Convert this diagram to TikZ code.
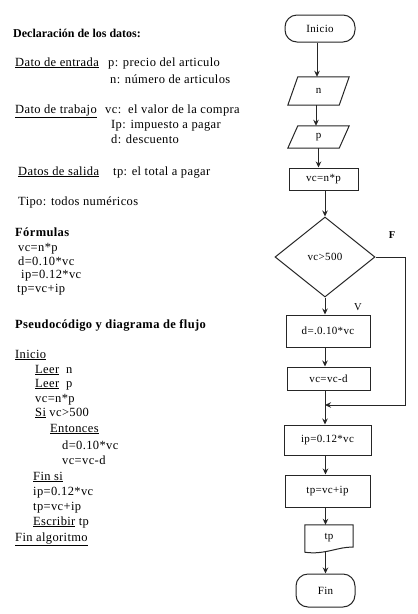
\documentclass[tikz,border=0pt]{standalone}
\usepackage{fontspec}
\setmainfont{Liberation Serif}
\usetikzlibrary{shapes.geometric,arrows.meta,calc}
\tikzset{
  txt/.style={anchor=west, inner sep=0pt, text height=8.5pt, text depth=2.5pt, font=\fontsize{12.5}{14}\selectfont\addfontfeature{LetterSpace=3}},
  btxt/.style={txt, font=\fontsize{12.5}{14}\selectfont\bfseries\addfontfeature{LetterSpace=3}},
  ln/.style={line width=1pt, draw=black!85},
  arr/.style={ln, -{Stealth[length=6pt,width=5.5pt]}},
  ffont/.style={font=\fontsize{11}{13}\selectfont\addfontfeature{LetterSpace=3}},
  term/.style={ln, rectangle, rounded corners=12pt, minimum width=#1, minimum height=27pt, inner sep=0pt, ffont},
  proc/.style={ln, rectangle, inner sep=0pt, ffont},
  ghost/.style={rectangle, inner sep=0pt, ffont},
}
\begin{document}
\begin{tikzpicture}[x=1pt,y=-1pt]
\useasboundingbox (0,0) rectangle (418,614);
\fill[white] (0,0) rectangle (418,614);

% ---------- left column text ----------
\node[txt, font=\fontsize{12}{14}\selectfont\bfseries] (h1) at (13,34) {Declaración de los datos:};
\node[txt] (de) at (15,63) {\underline{Dato de entrada}};
\node[txt] (de1) at (108,63) {p: precio del articulo};
\node[txt] (de2) at (110,80) {n: número de articulos};
\node[txt] (dt) at (15,110) {\underline{Dato de trabajo}};
\node[txt] (dt1) at (105,110) {vc:\ \ el valor de la compra};
\node[txt] (dt2) at (111,125) {Ip: impuesto a pagar};
\node[txt] (dt3) at (111,140) {d: descuento};
\node[txt] (ds) at (18,172) {\underline{Datos de salida}};
\node[txt] (ds1) at (113,172) {tp: el total a pagar};
\node[txt] (ti) at (18,202) {Tipo: todos numéricos};

\node[btxt] (fo) at (15,233) {Fórmulas};
\node[txt] (fo1) at (18,248) {vc=n*p};
\node[txt] (fo2) at (18,262) {d=0.10*vc};
\node[txt] (fo3) at (21,275) {ip=0.12*vc};
\node[txt] (fo4) at (17,289) {tp=vc+ip};

\node[btxt] (ps) at (15,325) {Pseudocódigo y diagrama de flujo};
\node[txt] (p1) at (15,355) {\underline{Inicio}};
\node[txt] (p2) at (35,370) {\underline{Leer}\ \ n};
\node[txt] (p3) at (35,384) {\underline{Leer}\ \ p};
\node[txt] (p4) at (35,399) {vc=n*p};
\node[txt] (p5) at (35,413) {\underline{Si} vc>500};
\node[txt] (p6) at (50,429) {\underline{Entonces}};
\node[txt] (p7) at (62,446) {d=0.10*vc};
\node[txt] (p8) at (62,461) {vc=vc-d};
\node[txt] (p9) at (33,477) {\underline{Fin si}};
\node[txt] (p10) at (33,492) {ip=0.12*vc};
\node[txt] (p11) at (33,507) {tp=vc+ip};
\node[txt] (p12) at (33,522) {\underline{Escribir} tp};
\node[txt] (p13) at (15,538) {\underline{Fin algoritmo}};

% ---------- flowchart ----------
\node[term=70pt] (ini) at (320,28.5) {Inicio};

\node[ghost, minimum width=51pt, minimum height=28pt] (n) at (318.5,91) {n};
\draw[ln] ([xshift=5pt]n.north west) -- ([xshift=5pt]n.north east)
  -- ([xshift=-5pt]n.south east) -- ([xshift=-5pt]n.south west) -- cycle;

\node[ghost, minimum width=51pt, minimum height=22pt] (p) at (318.5,137) {p};
\draw[ln] ([xshift=5pt]p.north west) -- ([xshift=5pt]p.north east)
  -- ([xshift=-5pt]p.south east) -- ([xshift=-5pt]p.south west) -- cycle;

\node[proc, minimum width=69pt, minimum height=22pt] (vc) at (323.5,179) {vc=n*p};

\node[ln, diamond, minimum width=100pt, minimum height=80pt, inner sep=0pt, ffont] (dia) at (325,257) {vc>500};

\node[proc, minimum width=84pt, minimum height=32pt] (d) at (328,331) {d=.0.10*vc};
\node[proc, minimum width=83pt, minimum height=23pt] (vcd) at (328.5,378.5) {vc=vc-d};
\node[proc, minimum width=87pt, minimum height=30pt] (ip) at (327.5,440) {ip=0.12*vc};
\node[proc, minimum width=85pt, minimum height=32pt] (tp) at (327.5,491) {tp=vc+ip};

\node[ghost, minimum width=48pt, minimum height=26pt] (out) at (329,538) {tp};
\draw[ln] (out.south west) -- (out.north west) -- (out.north east)
  -- ([yshift=4pt]out.south east)
  .. controls ([xshift=-14pt,yshift=5pt]out.south east) and ([xshift=20pt,yshift=-4pt]out.south west)
  .. ([yshift=-1pt]out.south west) -- cycle;

\node[term=59pt, minimum height=33pt] (fin) at (325.5,590.5) {Fin};

\coordinate (m) at (325,405);
\coordinate (fr) at (405,257);
\coordinate (fb) at (405,405);

\node[inner sep=0pt, font=\fontsize{10.5}{12}\selectfont\bfseries] (F) at (392,235) {F};
\node[inner sep=0pt, font=\fontsize{10.5}{12}\selectfont] (V) at (358,307) {V};

% connectors
\draw[arr] ([xshift=-3pt]ini.south) -- ([xshift=-3pt]ini.south |- n.north);
\draw[arr] ([xshift=-2.5pt]n.south) -- ([xshift=-2.5pt]n.south |- p.north);
\draw[arr] (p.south) -- (p.south |- vc.north);
\draw[arr] (dia.north |- vc.south) -- (dia.north);
\draw[arr] (dia.south) -- (dia.south |- d.north);
\draw[arr] (dia.south |- d.south) -- (dia.south |- vcd.north);
\draw[arr] (dia.south |- vcd.south) -- (dia.south |- ip.north);
\draw[arr] (dia.east) -- (fr) -- (fb) -- (m);
\draw[arr] (fin.north |- ip.south) -- (fin.north |- tp.north);
\draw[arr] (fin.north |- tp.south) -- (fin.north |- out.north);
\draw[arr] (fin.north |- out.south) -- (fin.north);
\end{tikzpicture}
\end{document}
